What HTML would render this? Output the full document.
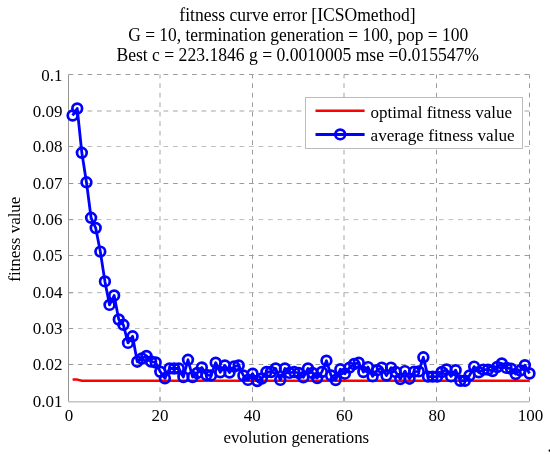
<!DOCTYPE html>
<html><head><meta charset="utf-8"><title>fitness curve error</title>
<style>
html,body{margin:0;padding:0;background:#fff;}
svg{display:block;}
text{font-family:"Liberation Serif","Times New Roman",serif;fill:#000;}
</style></head><body>
<svg width="550" height="455" viewBox="0 0 550 455">
<rect x="0" y="0" width="550" height="455" fill="#fff"/>
<g font-size="17.5" text-anchor="middle">
<text x="297.5" y="21" textLength="236.4" lengthAdjust="spacingAndGlyphs" transform="matrix(1 0 0 1.03 0 -0.630)">fitness curve error [ICSOmethod]</text>
<text x="298.2" y="40.7" textLength="340" lengthAdjust="spacingAndGlyphs" transform="matrix(1 0 0 1.03 0 -1.221)">G = 10, termination generation = 100, pop = 100</text>
<text x="297.7" y="60.8" textLength="362.6" lengthAdjust="spacingAndGlyphs" transform="matrix(1 0 0 1.03 0 -1.824)">Best c = 223.1846 g = 0.0010005 mse =0.015547%</text>
</g>
<g stroke="#a8a8a8" stroke-width="1" stroke-dasharray="4.75 4.75" fill="none">
<line x1="160.00" y1="401.5" x2="160.00" y2="74.5" stroke="#a4a4a4"/>
<line x1="252.50" y1="401.5" x2="252.50" y2="74.5" stroke="#9c9c9c"/>
<line x1="344.00" y1="401.5" x2="344.00" y2="74.5" stroke="#a4a4a4"/>
<line x1="436.50" y1="401.5" x2="436.50" y2="74.5" stroke="#9c9c9c"/>
<line x1="529.50" y1="401.5" x2="529.50" y2="74.5" stroke="#9c9c9c"/>
<line x1="68.5" y1="364.50" x2="529.4" y2="364.50" stroke="#9c9c9c"/>
<line x1="68.5" y1="328.50" x2="529.4" y2="328.50" stroke="#bebebe"/>
<line x1="68.5" y1="292.70" x2="529.4" y2="292.70" stroke="#b0b0b0"/>
<line x1="68.5" y1="255.50" x2="529.4" y2="255.50" stroke="#9c9c9c"/>
<line x1="68.5" y1="219.60" x2="529.4" y2="219.60" stroke="#bebebe"/>
<line x1="68.5" y1="183.50" x2="529.4" y2="183.50" stroke="#9c9c9c"/>
<line x1="68.5" y1="146.50" x2="529.4" y2="146.50" stroke="#bebebe"/>
<line x1="68.5" y1="111.00" x2="529.4" y2="111.00" stroke="#a4a4a4"/>
<line x1="68.5" y1="74.50" x2="529.4" y2="74.50" stroke="#9c9c9c"/>
</g>
<g stroke="#969696" stroke-width="1" fill="none">
<line x1="160.00" y1="401.5" x2="160.00" y2="396.9"/>
<line x1="252.50" y1="401.5" x2="252.50" y2="396.9"/>
<line x1="344.00" y1="401.5" x2="344.00" y2="396.9"/>
<line x1="436.50" y1="401.5" x2="436.50" y2="396.9"/>
<line x1="68.5" y1="364.50" x2="73.1" y2="364.50"/>
<line x1="68.5" y1="328.50" x2="73.1" y2="328.50"/>
<line x1="68.5" y1="292.70" x2="73.1" y2="292.70"/>
<line x1="68.5" y1="255.50" x2="73.1" y2="255.50"/>
<line x1="68.5" y1="219.60" x2="73.1" y2="219.60"/>
<line x1="68.5" y1="183.50" x2="73.1" y2="183.50"/>
<line x1="68.5" y1="146.50" x2="73.1" y2="146.50"/>
<line x1="68.5" y1="111.00" x2="73.1" y2="111.00"/>
<line x1="68.5" y1="74.5" x2="68.5" y2="401.5"/>
</g>
<g stroke="#c4c4c4" stroke-width="1.6" fill="none">
<line x1="68.0" y1="401.7" x2="529.4" y2="401.7"/>
</g>
<g font-size="17">
<text x="62.5" y="407.30" text-anchor="end" transform="matrix(1 0 0 1.03 0 -12.219)">0.01</text>
<text x="62.5" y="370.30" text-anchor="end" transform="matrix(1 0 0 1.03 0 -11.109)">0.02</text>
<text x="62.5" y="334.30" text-anchor="end" transform="matrix(1 0 0 1.03 0 -10.029)">0.03</text>
<text x="62.5" y="298.50" text-anchor="end" transform="matrix(1 0 0 1.03 0 -8.955)">0.04</text>
<text x="62.5" y="261.30" text-anchor="end" transform="matrix(1 0 0 1.03 0 -7.839)">0.05</text>
<text x="62.5" y="225.40" text-anchor="end" transform="matrix(1 0 0 1.03 0 -6.762)">0.06</text>
<text x="62.5" y="189.30" text-anchor="end" transform="matrix(1 0 0 1.03 0 -5.679)">0.07</text>
<text x="62.5" y="152.30" text-anchor="end" transform="matrix(1 0 0 1.03 0 -4.569)">0.08</text>
<text x="62.5" y="116.80" text-anchor="end" transform="matrix(1 0 0 1.03 0 -3.504)">0.09</text>
<text x="62.5" y="81.30" text-anchor="end" transform="matrix(1 0 0 1.03 0 -2.439)">0.1</text>
<text x="69.00" y="421" text-anchor="middle" transform="matrix(1 0 0 1.03 0 -12.630)">0</text>
<text x="159.90" y="421" text-anchor="middle" transform="matrix(1 0 0 1.03 0 -12.630)">20</text>
<text x="252.20" y="421" text-anchor="middle" transform="matrix(1 0 0 1.03 0 -12.630)">40</text>
<text x="344.50" y="421" text-anchor="middle" transform="matrix(1 0 0 1.03 0 -12.630)">60</text>
<text x="437.00" y="421" text-anchor="middle" transform="matrix(1 0 0 1.03 0 -12.630)">80</text>
<text x="530.40" y="421" text-anchor="middle" transform="matrix(1 0 0 1.03 0 -12.630)">100</text>
<text x="296.3" y="443.3" text-anchor="middle" textLength="145.7" lengthAdjust="spacingAndGlyphs" transform="matrix(1 0 0 1.03 0 -13.299)">evolution generations</text>
<text transform="translate(19.8,239.2) rotate(-90)" x="0" y="0" text-anchor="middle" textLength="85.1" lengthAdjust="spacingAndGlyphs">fitness value</text>
</g>
<path d="M72.61,379.60 L77.23,379.60 L81.84,380.80 L86.46,380.80 L91.08,380.80 L95.69,380.80 L100.31,380.80 L104.92,380.80 L109.53,380.80 L114.15,380.80 L118.77,380.80 L123.38,380.80 L128.00,380.80 L132.61,380.80 L137.23,380.80 L141.84,380.80 L146.45,380.80 L151.07,380.80 L155.69,380.80 L160.30,380.80 L164.92,380.80 L169.53,380.80 L174.15,380.80 L178.76,380.80 L183.38,380.80 L187.99,380.80 L192.61,380.80 L197.22,380.80 L201.84,380.80 L206.45,380.80 L211.06,380.80 L215.68,380.80 L220.30,380.80 L224.91,380.80 L229.53,380.80 L234.14,380.80 L238.75,380.80 L243.37,380.80 L247.99,380.80 L252.60,380.80 L257.22,380.80 L261.83,380.80 L266.45,380.80 L271.06,380.80 L275.68,380.80 L280.29,380.80 L284.90,380.80 L289.52,380.80 L294.13,380.80 L298.75,380.80 L303.37,380.80 L307.98,380.80 L312.60,380.80 L317.21,380.80 L321.83,380.80 L326.44,380.80 L331.06,380.80 L335.67,380.80 L340.29,380.80 L344.90,380.80 L349.51,380.80 L354.13,380.80 L358.75,380.80 L363.36,380.80 L367.98,380.80 L372.59,380.80 L377.21,380.80 L381.82,380.80 L386.44,380.80 L391.05,380.80 L395.67,380.80 L400.28,380.80 L404.90,380.80 L409.51,380.80 L414.12,380.80 L418.74,380.80 L423.36,380.80 L427.97,380.80 L432.59,380.80 L437.20,380.80 L441.81,380.80 L446.43,380.80 L451.05,380.80 L455.66,380.80 L460.28,380.80 L464.89,380.80 L469.50,380.80 L474.12,380.80 L478.74,380.80 L483.35,380.80 L487.97,380.80 L492.58,380.80 L497.19,380.80 L501.81,380.80 L506.43,380.80 L511.04,380.80 L515.65,380.80 L520.27,380.80 L524.88,380.80 L529.50,380.80" fill="none" stroke="#f00" stroke-width="2.5" stroke-linejoin="round"/>
<path d="M72.61,115.50 L77.23,108.50 L81.84,152.80 L86.46,182.30 L91.08,217.80 L95.69,228.00 L100.31,251.60 L104.92,281.40 L109.53,304.90 L114.15,295.50 L118.77,319.50 L123.38,324.80 L128.00,342.90 L132.61,336.30 L137.23,361.70 L141.84,358.50 L146.45,356.00 L151.07,361.50 L155.69,362.50 L160.30,371.80 L164.92,378.30 L169.53,368.50 L174.15,368.50 L178.76,368.50 L183.38,377.00 L187.99,359.80 L192.61,377.00 L197.22,373.00 L201.84,367.50 L206.45,375.00 L211.06,375.40 L215.68,362.70 L220.30,372.30 L224.91,365.40 L229.53,372.50 L234.14,366.50 L238.75,365.40 L243.37,375.50 L247.99,379.90 L252.60,373.70 L257.22,381.00 L261.83,378.50 L266.45,372.00 L271.06,372.00 L275.68,368.50 L280.29,379.90 L284.90,368.50 L289.52,372.90 L294.13,372.00 L298.75,373.00 L303.37,377.30 L307.98,368.50 L312.60,373.00 L317.21,378.00 L321.83,372.00 L326.44,360.70 L331.06,375.50 L335.67,380.00 L340.29,369.30 L344.90,373.70 L349.51,367.60 L354.13,364.00 L358.75,362.70 L363.36,372.00 L367.98,367.10 L372.59,376.40 L377.21,370.20 L381.82,367.60 L386.44,375.50 L391.05,367.60 L395.67,372.00 L400.28,379.00 L404.90,371.10 L409.51,378.70 L414.12,371.70 L418.74,371.40 L423.36,357.30 L427.97,376.60 L432.59,376.60 L437.20,376.60 L441.81,372.00 L446.43,369.50 L451.05,376.40 L455.66,370.20 L460.28,380.80 L464.89,380.80 L469.50,375.50 L474.12,366.60 L478.74,372.30 L483.35,369.60 L487.97,369.60 L492.58,371.00 L497.19,367.00 L501.81,363.50 L506.43,367.90 L511.04,368.70 L515.65,374.00 L520.27,370.50 L524.88,365.20 L529.50,373.50" fill="none" stroke="#00f" stroke-width="2.8" stroke-linejoin="round"/>
<g fill="none" stroke="#00f" stroke-width="2.7">
<circle cx="72.61" cy="115.50" r="4.85"/>
<circle cx="77.23" cy="108.50" r="4.85"/>
<circle cx="81.84" cy="152.80" r="4.85"/>
<circle cx="86.46" cy="182.30" r="4.85"/>
<circle cx="91.08" cy="217.80" r="4.85"/>
<circle cx="95.69" cy="228.00" r="4.85"/>
<circle cx="100.31" cy="251.60" r="4.85"/>
<circle cx="104.92" cy="281.40" r="4.85"/>
<circle cx="109.53" cy="304.90" r="4.85"/>
<circle cx="114.15" cy="295.50" r="4.85"/>
<circle cx="118.77" cy="319.50" r="4.85"/>
<circle cx="123.38" cy="324.80" r="4.85"/>
<circle cx="128.00" cy="342.90" r="4.85"/>
<circle cx="132.61" cy="336.30" r="4.85"/>
<circle cx="137.23" cy="361.70" r="4.85"/>
<circle cx="141.84" cy="358.50" r="4.85"/>
<circle cx="146.45" cy="356.00" r="4.85"/>
<circle cx="151.07" cy="361.50" r="4.85"/>
<circle cx="155.69" cy="362.50" r="4.85"/>
<circle cx="160.30" cy="371.80" r="4.85"/>
<circle cx="164.92" cy="378.30" r="4.85"/>
<circle cx="169.53" cy="368.50" r="4.85"/>
<circle cx="174.15" cy="368.50" r="4.85"/>
<circle cx="178.76" cy="368.50" r="4.85"/>
<circle cx="183.38" cy="377.00" r="4.85"/>
<circle cx="187.99" cy="359.80" r="4.85"/>
<circle cx="192.61" cy="377.00" r="4.85"/>
<circle cx="197.22" cy="373.00" r="4.85"/>
<circle cx="201.84" cy="367.50" r="4.85"/>
<circle cx="206.45" cy="375.00" r="4.85"/>
<circle cx="211.06" cy="375.40" r="4.85"/>
<circle cx="215.68" cy="362.70" r="4.85"/>
<circle cx="220.30" cy="372.30" r="4.85"/>
<circle cx="224.91" cy="365.40" r="4.85"/>
<circle cx="229.53" cy="372.50" r="4.85"/>
<circle cx="234.14" cy="366.50" r="4.85"/>
<circle cx="238.75" cy="365.40" r="4.85"/>
<circle cx="243.37" cy="375.50" r="4.85"/>
<circle cx="247.99" cy="379.90" r="4.85"/>
<circle cx="252.60" cy="373.70" r="4.85"/>
<circle cx="257.22" cy="381.00" r="4.85"/>
<circle cx="261.83" cy="378.50" r="4.85"/>
<circle cx="266.45" cy="372.00" r="4.85"/>
<circle cx="271.06" cy="372.00" r="4.85"/>
<circle cx="275.68" cy="368.50" r="4.85"/>
<circle cx="280.29" cy="379.90" r="4.85"/>
<circle cx="284.90" cy="368.50" r="4.85"/>
<circle cx="289.52" cy="372.90" r="4.85"/>
<circle cx="294.13" cy="372.00" r="4.85"/>
<circle cx="298.75" cy="373.00" r="4.85"/>
<circle cx="303.37" cy="377.30" r="4.85"/>
<circle cx="307.98" cy="368.50" r="4.85"/>
<circle cx="312.60" cy="373.00" r="4.85"/>
<circle cx="317.21" cy="378.00" r="4.85"/>
<circle cx="321.83" cy="372.00" r="4.85"/>
<circle cx="326.44" cy="360.70" r="4.85"/>
<circle cx="331.06" cy="375.50" r="4.85"/>
<circle cx="335.67" cy="380.00" r="4.85"/>
<circle cx="340.29" cy="369.30" r="4.85"/>
<circle cx="344.90" cy="373.70" r="4.85"/>
<circle cx="349.51" cy="367.60" r="4.85"/>
<circle cx="354.13" cy="364.00" r="4.85"/>
<circle cx="358.75" cy="362.70" r="4.85"/>
<circle cx="363.36" cy="372.00" r="4.85"/>
<circle cx="367.98" cy="367.10" r="4.85"/>
<circle cx="372.59" cy="376.40" r="4.85"/>
<circle cx="377.21" cy="370.20" r="4.85"/>
<circle cx="381.82" cy="367.60" r="4.85"/>
<circle cx="386.44" cy="375.50" r="4.85"/>
<circle cx="391.05" cy="367.60" r="4.85"/>
<circle cx="395.67" cy="372.00" r="4.85"/>
<circle cx="400.28" cy="379.00" r="4.85"/>
<circle cx="404.90" cy="371.10" r="4.85"/>
<circle cx="409.51" cy="378.70" r="4.85"/>
<circle cx="414.12" cy="371.70" r="4.85"/>
<circle cx="418.74" cy="371.40" r="4.85"/>
<circle cx="423.36" cy="357.30" r="4.85"/>
<circle cx="427.97" cy="376.60" r="4.85"/>
<circle cx="432.59" cy="376.60" r="4.85"/>
<circle cx="437.20" cy="376.60" r="4.85"/>
<circle cx="441.81" cy="372.00" r="4.85"/>
<circle cx="446.43" cy="369.50" r="4.85"/>
<circle cx="451.05" cy="376.40" r="4.85"/>
<circle cx="455.66" cy="370.20" r="4.85"/>
<circle cx="460.28" cy="380.80" r="4.85"/>
<circle cx="464.89" cy="380.80" r="4.85"/>
<circle cx="469.50" cy="375.50" r="4.85"/>
<circle cx="474.12" cy="366.60" r="4.85"/>
<circle cx="478.74" cy="372.30" r="4.85"/>
<circle cx="483.35" cy="369.60" r="4.85"/>
<circle cx="487.97" cy="369.60" r="4.85"/>
<circle cx="492.58" cy="371.00" r="4.85"/>
<circle cx="497.19" cy="367.00" r="4.85"/>
<circle cx="501.81" cy="363.50" r="4.85"/>
<circle cx="506.43" cy="367.90" r="4.85"/>
<circle cx="511.04" cy="368.70" r="4.85"/>
<circle cx="515.65" cy="374.00" r="4.85"/>
<circle cx="520.27" cy="370.50" r="4.85"/>
<circle cx="524.88" cy="365.20" r="4.85"/>
<circle cx="529.50" cy="373.50" r="4.85"/>
</g>
<g>
<rect x="305.5" y="97.5" width="217" height="51" fill="#fff" stroke="#bcbcbc" stroke-width="1"/>
<line x1="315.5" y1="110.8" x2="364.6" y2="110.8" stroke="#f00" stroke-width="2.5"/>
<line x1="315.5" y1="134.5" x2="364.6" y2="134.5" stroke="#00f" stroke-width="2.8"/>
<circle cx="340.2" cy="134.4" r="4.85" fill="none" stroke="#00f" stroke-width="2.7"/>
<g font-size="17">
<text x="370.5" y="117.7" textLength="141.6" lengthAdjust="spacingAndGlyphs" transform="matrix(1 0 0 1.03 0 -3.531)">optimal fitness value</text>
<text x="370.5" y="141.0" textLength="144.2" lengthAdjust="spacingAndGlyphs" transform="matrix(1 0 0 1.03 0 -4.230)">average fitness value</text>
</g>
</g>
<circle cx="549.6" cy="450.6" r="1.1" fill="#000"/>
</svg>
</body></html>
